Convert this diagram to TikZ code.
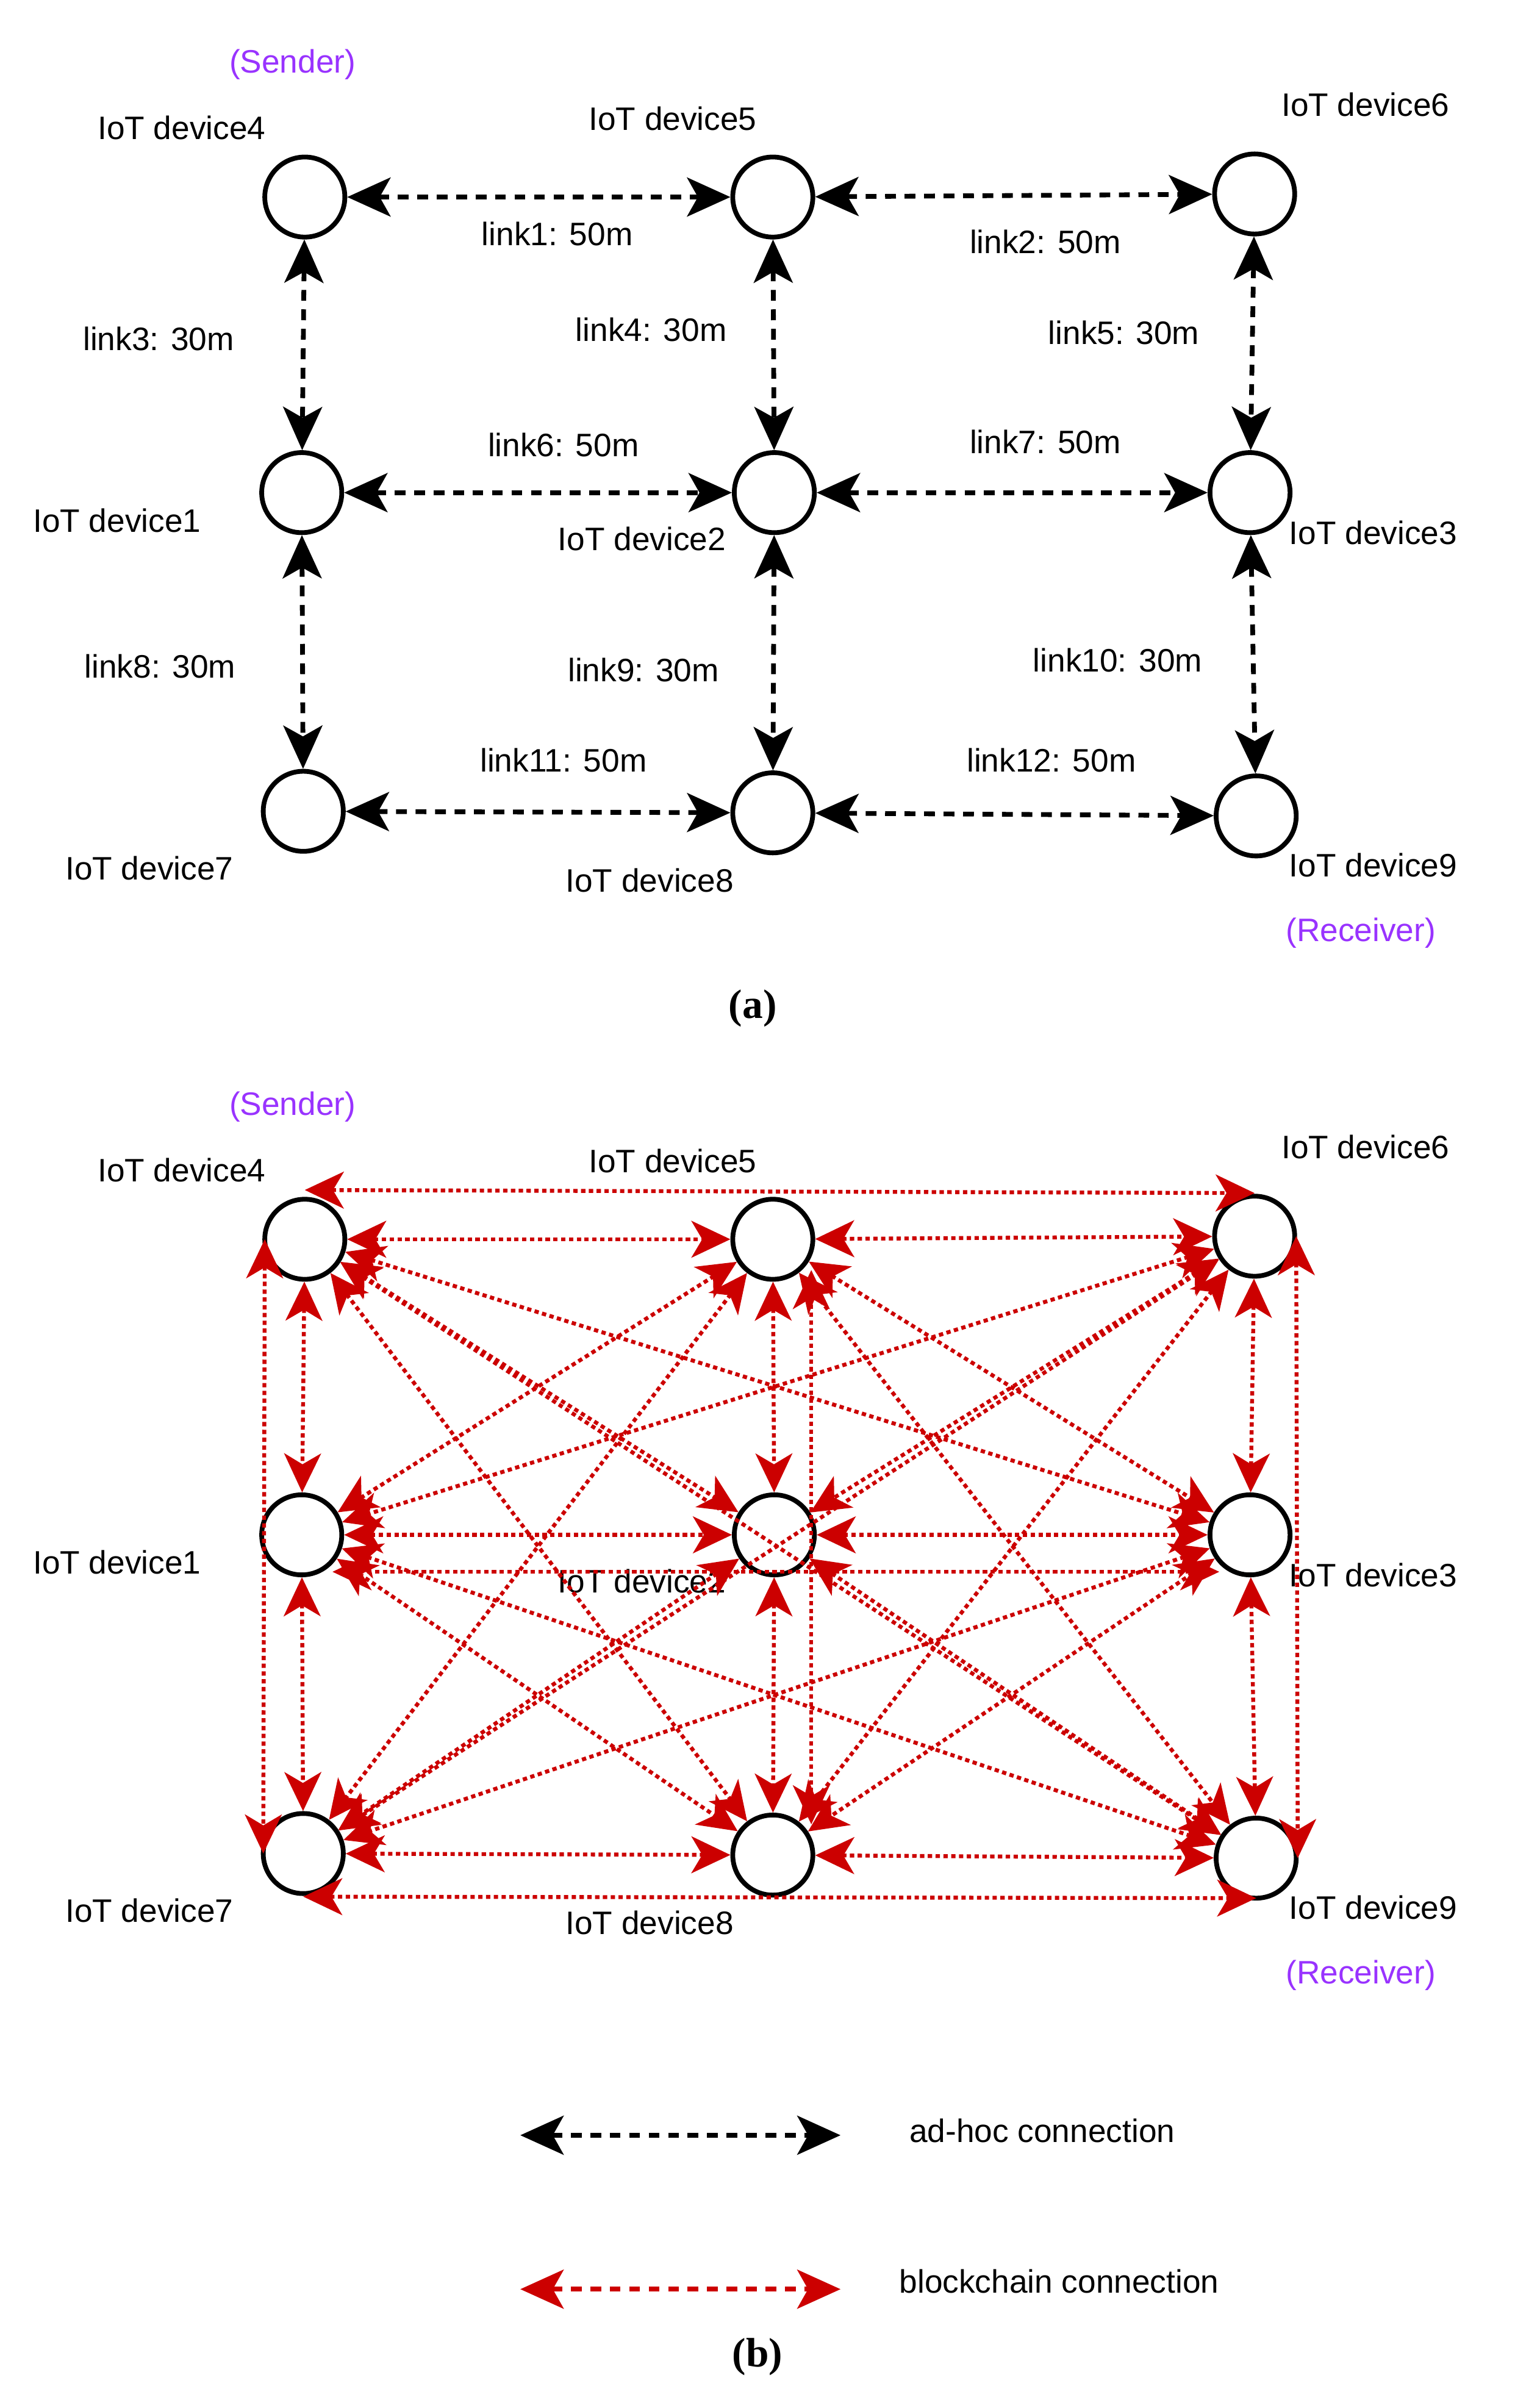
\documentclass[tikz,border=0pt]{standalone}
\usepackage{fontspec}
\setmainfont{Liberation Sans}
\newfontfamily\serf{Liberation Serif}
\usetikzlibrary{arrows.meta,calc}
\definecolor{bred}{HTML}{CC0000}
\definecolor{purp}{HTML}{9933FF}
\begin{document}
\begin{tikzpicture}[x=0.025cm,y=-0.025cm,
  dev/.style={circle,draw,line width=2.2pt,minimum size=1.3cm,inner sep=0pt},
  lbl/.style={font=\fontsize{15}{18}\selectfont,inner sep=0pt},
  pur/.style={lbl,text=purp},
  adhoc/.style={line width=2.2pt,dash pattern=on 5pt off 4pt,{Stealth[length=20pt,width=18pt,inset=5pt]}-{Stealth[length=20pt,width=18pt,inset=5pt]}},
  chain/.style={bred,line width=1.8pt,dash pattern=on 2pt off 1.6pt,{Stealth[length=18pt,width=17pt,inset=5pt]}-{Stealth[length=18pt,width=17pt,inset=5pt]}},
  legchain/.style={bred,line width=2.2pt,dash pattern=on 5pt off 4pt,{Stealth[length=20pt,width=18pt,inset=5pt]}-{Stealth[length=20pt,width=18pt,inset=5pt]}},
  figcap/.style={font=\serf\bfseries\fontsize{19}{22}\selectfont}]
\useasboundingbox (0,0) rectangle (1000,1559);
% ---------- (a)
\node[dev] (a4) at (198,128) {};
\node[dev] (a5) at (502,128) {};
\node[dev] (a6) at (815,126) {};
\node[dev] (a1) at (196,320) {};
\node[dev] (a2) at (503,320) {};
\node[dev] (a3) at (812,320) {};
\node[dev] (a7) at (197,527) {};
\node[dev] (a8) at (502,528) {};
\node[dev] (a9) at (816,530) {};
\node[pur] (as) at (190,42) {(Sender)};
\node[lbl] (at4) at (118,83) {IoT device4};
\node[lbl] (at5) at (437,77) {IoT device5};
\node[lbl] (at6) at (887,68) {IoT device6};
\node[lbl] (at1) at (76,338) {IoT device1};
\node[lbl] (at2) at (417,350) {IoT device2};
\node[lbl] (at3) at (892,346) {IoT device3};
\node[lbl] (at7) at (97,564) {IoT device7};
\node[lbl] (at8) at (422,572) {IoT device8};
\node[lbl] (at9) at (892,562) {IoT device9};
\node[pur] (ar) at (884,606) {(Receiver)};
\draw[adhoc] (a4) -- (a5);
\draw[adhoc] (a5) -- (a6);
\draw[adhoc] (a4) -- (a1);
\draw[adhoc] (a5) -- (a2);
\draw[adhoc] (a6) -- (a3);
\draw[adhoc] (a1) -- (a2);
\draw[adhoc] (a2) -- (a3);
\draw[adhoc] (a1) -- (a7);
\draw[adhoc] (a2) -- (a8);
\draw[adhoc] (a3) -- (a9);
\draw[adhoc] (a7) -- (a8);
\draw[adhoc] (a8) -- (a9);
\node[lbl] (l1) at (362,152) {link1: 50m};
\node[lbl] (l2) at (679,157) {link2: 50m};
\node[lbl] (l3) at (103,220) {link3: 30m};
\node[lbl] (l4) at (423,214) {link4: 30m};
\node[lbl] (l5) at (730,216) {link5: 30m};
\node[lbl] (l6) at (366,289) {link6: 50m};
\node[lbl] (l7) at (679,287) {link7: 50m};
\node[lbl] (l8) at (104,433) {link8: 30m};
\node[lbl] (l9) at (418,435) {link9: 30m};
\node[lbl] (l10) at (726,429) {link10: 30m};
\node[lbl] (l11) at (366,494) {link11: 50m};
\node[lbl] (l12) at (683,494) {link12: 50m};
\node[figcap] (ca) at (489,655) {(a)};
% ---------- (b)
\node[dev] (b4) at (198,805) {};
\node[dev] (b5) at (502,805) {};
\node[dev] (b6) at (815,803) {};
\node[dev] (b1) at (196,997) {};
\node[dev] (b2) at (503,997) {};
\node[dev] (b3) at (812,997) {};
\node[dev] (b7) at (197,1204) {};
\node[dev] (b8) at (502,1205) {};
\node[dev] (b9) at (816,1207) {};
\node[pur] (bs) at (190,719) {(Sender)};
\node[lbl] (bt4) at (118,760) {IoT device4};
\node[lbl] (bt5) at (437,754) {IoT device5};
\node[lbl] (bt6) at (887,745) {IoT device6};
\node[lbl] (bt1) at (76,1015) {IoT device1};
\node[lbl] (bt2) at (417,1027) {IoT device2};
\node[lbl] (bt3) at (892,1023) {IoT device3};
\node[lbl] (bt7) at (97,1241) {IoT device7};
\node[lbl] (bt8) at (422,1249) {IoT device8};
\node[lbl] (bt9) at (892,1239) {IoT device9};
\node[pur] (br) at (884,1283) {(Receiver)};
\foreach \a/\b in {4/5,5/6,1/2,2/3,7/8,8/9,4/1,1/7,5/2,2/8,6/3,3/9,
  4/2,4/3,4/8,4/9,5/1,5/3,5/7,5/9,6/1,6/2,6/7,6/8,
  1/8,1/9,2/7,2/9,3/7,3/8}{
  \draw[chain] (b\a) -- (b\b);}
\draw[chain] ($(b4)+(0,-32)$) -- ($(b6)+(0,-28)$);
\draw[chain] ($(b1)+(20,24)$) -- ($(b3)+(-20,24)$);
\draw[chain] ($(b7)+(0,28)$) -- ($(b9)+(0,26)$);
\draw[chain] ($(b4)+(-26,0)$) -- ($(b7)+(-26,0)$);
\draw[chain] ($(b5)+(25,20)$) -- ($(b8)+(25,-20)$);
\draw[chain] ($(b6)+(27,0)$) -- ($(b9)+(27,0)$);
\node[figcap] (cb) at (492,1531) {(b)};
% ---------- legend
\coordinate (k1) at (338,1387);
\coordinate (k2) at (546,1387);
\coordinate (k3) at (338,1487);
\coordinate (k4) at (546,1487);
\draw[adhoc] (k1) -- (k2);
\draw[legchain] (k3) -- (k4);
\node[lbl] (t1) at (677,1384) {ad-hoc connection};
\node[lbl] (t2) at (688,1482) {blockchain connection};
\end{tikzpicture}
\end{document}
